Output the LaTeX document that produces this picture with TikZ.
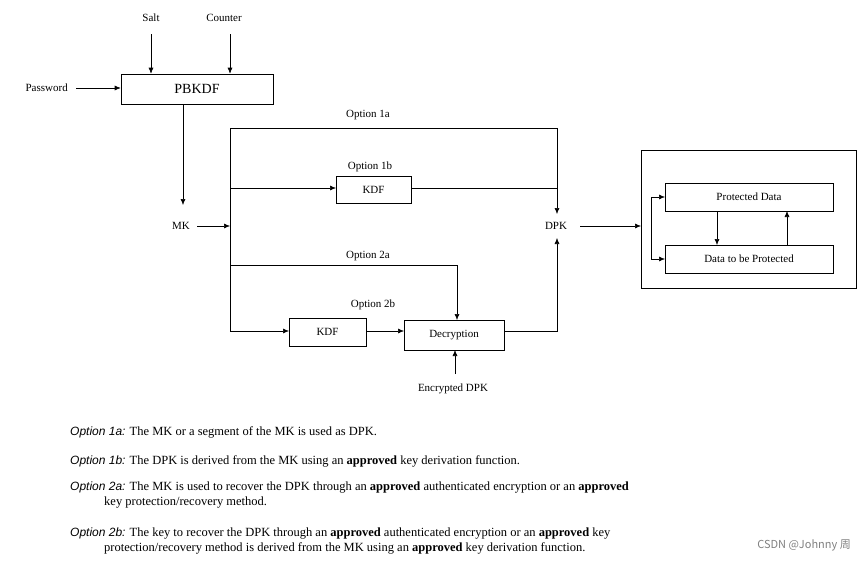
\documentclass[tikz,border=0pt]{standalone}
\usepackage{fontspec}
\setmainfont{Liberation Serif}
\newfontfamily\lsans{Liberation Sans}
\newfontfamily\cjk{Noto Sans CJK SC}
\newcommand\optlab{\lsans\itshape\fontsize{12}{14}\selectfont}
\usetikzlibrary{arrows.meta}
\begin{document}
\begin{tikzpicture}[x=1pt,y=-1pt,
  box/.style={draw,line width=0.6pt,inner sep=0pt,font=\fontsize{11}{12}\selectfont},
  lbl/.style={inner sep=0pt,font=\fontsize{11}{12}\selectfont},
  ar/.style={-{Latex[length=6pt,width=5pt]},line width=0.6pt},
  ln/.style={line width=0.6pt},
  txt/.style={anchor=west,inner sep=0pt,font=\fontsize{12.5}{15}\selectfont,align=left}]
\useasboundingbox (0,0) rectangle (865,562);
% top
\node[lbl] (salt) at (151,18) {Salt};
\node[lbl] (counter) at (224,18) {Counter};
\node[lbl,anchor=east] (pw) at (68,88) {Password};
\node[box,minimum width=152pt,minimum height=30pt,font=\fontsize{14}{16}\selectfont] (pb) at (197,89) {PBKDF};
\coordinate (s1) at (151,34);
\coordinate (c1) at (230,34);
\coordinate (p1) at (76,88);
\draw[ar] (s1) -- (s1 |- pb.north);
\draw[ar] (c1) -- (c1 |- pb.north);
\draw[ar] (p1) -- (p1 -| pb.west);
\node[lbl] (mk) at (181,226) {MK};
\draw[ar] (183,104) -- (183,205);
\coordinate (j) at (230,226);
\draw[ar] (197,226) -- (j);
\draw[ln] (230,128) -- (230,331);
% option 1a
\node[lbl] (dpk) at (556,226) {DPK};
\node[lbl] (o1a) at (368,115) {Option 1a};
\draw[ar] (230,128) -- (557,128) -- (557,214);
% option 1b
\node[lbl] (o1b) at (370,167) {Option 1b};
\node[box,minimum width=75pt,minimum height=27pt] (k1) at (373.5,189.5) {KDF};
\draw[ar] (230,188) -- (336,188);
\draw[ln] (411,188) -- (557,188);
% option 2a
\node[lbl] (o2a) at (368,256) {Option 2a};
\node[box,minimum width=100pt,minimum height=30pt] (dec) at (454,335) {Decryption};
\draw[ar] (230,265) -- (457,265) -- (457,320);
% option 2b
\node[lbl] (o2b) at (373,305) {Option 2b};
\node[box,minimum width=77pt,minimum height=28pt] (k2) at (327.5,332) {KDF};
\draw[ar] (230,331) -- (289,331);
\draw[ar] (366,331) -- (404,331);
\draw[ar] (504,331) -- (557,331) -- (557,238);
\node[lbl] (edpk) at (453,389) {Encrypted DPK};
\draw[ar] (455,374) -- (455,350);
% right
\node[draw,line width=0.6pt,minimum width=215pt,minimum height=138pt,inner sep=0pt] (outer) at (748.5,219) {};
\draw[ar] (580,226) -- (641,226);
\node[box,minimum width=168pt,minimum height=28pt] (pd) at (749,197) {Protected Data};
\node[box,minimum width=168pt,minimum height=28pt] (dp) at (749,259) {Data to be Protected};
\draw[ar] (717,211) -- (717,245);
\draw[ar] (787,245) -- (787,211);
\draw[ar] (651,197) -- (665,197);
\draw[ln] (651,197) -- (651,259);
\draw[ar] (651,259) -- (665,259);
% text
\node[txt] (t1) at (70,432) {{\optlab Option 1a:} The MK or a segment of the MK is used as DPK.};
\node[txt] (t2) at (70,461) {{\optlab Option 1b:} The DPK is derived from the MK using an \textbf{approved} key derivation function.};
\node[txt,anchor=north west] (t3) at (70,482) {{\optlab Option 2a:} The MK is used to recover the DPK through an \textbf{approved} authenticated encryption or an \textbf{approved}\\\hspace*{34pt}key protection/recovery method.};
\node[txt,anchor=north west] (t4) at (70,528) {{\optlab Option 2b:} The key to recover the DPK through an \textbf{approved} authenticated encryption or an \textbf{approved} key\\\hspace*{34pt}protection/recovery method is derived from the MK using an \textbf{approved} key derivation function.};
\node[anchor=east,inner sep=0pt,text=gray,font=\cjk\fontsize{11}{12}\selectfont] (wm) at (851,545) {CSDN @Johnny 周};
\end{tikzpicture}
\end{document}
